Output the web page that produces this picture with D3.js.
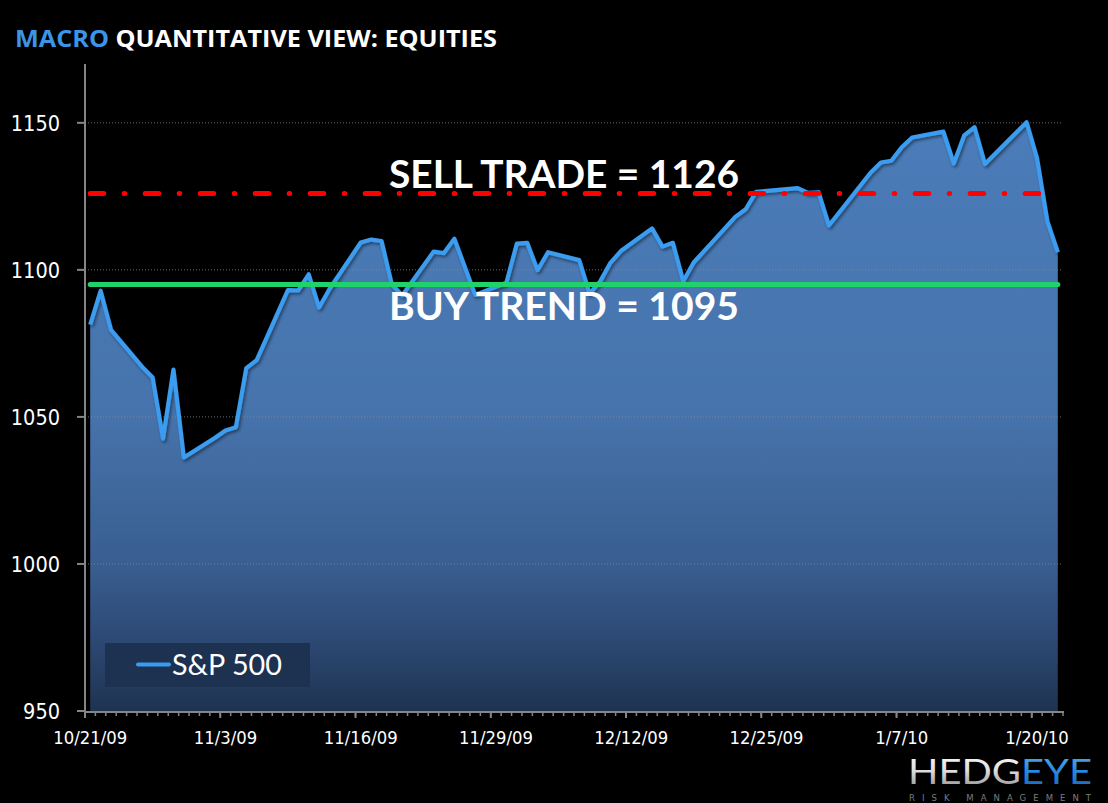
<!DOCTYPE html>
<html><head><meta charset="utf-8">
<script src="https://cdn.jsdelivr.net/npm/d3@7"></script>
<style>html,body{margin:0;padding:0;background:#000;overflow:hidden}svg{display:block}</style>
</head><body>
<svg id="chart" width="1108" height="803"></svg>
<script>
// ---------------- data ----------------
const dates = [
  "2009-10-21","2009-10-22","2009-10-23","2009-10-26","2009-10-27","2009-10-28","2009-10-29","2009-10-30",
  "2009-11-02","2009-11-03","2009-11-04","2009-11-05","2009-11-06","2009-11-09","2009-11-10","2009-11-11",
  "2009-11-12","2009-11-13","2009-11-16","2009-11-17","2009-11-18","2009-11-19","2009-11-20","2009-11-23",
  "2009-11-24","2009-11-25","2009-11-27","2009-11-30","2009-12-01","2009-12-02","2009-12-03","2009-12-04",
  "2009-12-07","2009-12-08","2009-12-09","2009-12-10","2009-12-11","2009-12-14","2009-12-15","2009-12-16",
  "2009-12-17","2009-12-18","2009-12-21","2009-12-22","2009-12-23","2009-12-24","2009-12-28","2009-12-29",
  "2009-12-30","2009-12-31","2010-01-04","2010-01-05","2010-01-06","2010-01-07","2010-01-08","2010-01-11",
  "2010-01-12","2010-01-13","2010-01-14","2010-01-15","2010-01-19","2010-01-20","2010-01-21","2010-01-22"
];
const values = [
  1081.4,1092.9,1079.6,1067.0,1063.4,1042.6,1066.1,1036.2,
  1042.9,1045.4,1046.5,1066.6,1069.3,1093.1,1093.0,1098.5,
  1087.2,1093.5,1109.3,1110.3,1109.8,1094.9,1091.4,1106.2,
  1105.7,1110.6,1091.5,1095.6,1108.9,1109.2,1099.9,1106.0,
  1103.3,1091.9,1096.0,1102.4,1106.4,1114.1,1107.9,1109.2,
  1096.1,1102.5,1114.1,1118.0,1120.6,1126.5,1127.8,1126.2,
  1126.4,1115.1,1133.0,1136.5,1137.1,1141.7,1145.0,1147.0,
  1136.2,1145.7,1148.5,1136.0,1150.2,1138.0,1116.5,1106.0
];
const seriesName = "S&P 500";
const yTicks = [950, 1000, 1050, 1100, 1150];
const yDomain = [950, 1170];
const xTickLabels = ["10/21/09","11/3/09","11/16/09","11/29/09","12/12/09","12/25/09","1/7/10","1/20/10"];
const xDomain = ["2009-10-21","2010-01-23"];
const levelNames = ["SELL TRADE", "BUY TREND"];
const levelValues = [1126, 1095];
const levelEnds = ["2010-01-20", "2010-01-22"];
const titleParts = ["MACRO", " QUANTITATIVE VIEW: EQUITIES"];

// ---------------- setup ----------------
const svg = d3.select("#chart");
const W = 1108, H = 803;
const m = {left: 85, right: 1063, top: 64, bottom: 711};
const toDay = s => { const [y, mo, d] = s.split("-").map(Number); return new Date(Date.UTC(y, mo - 1, d)); };
const mid = dt => new Date(+dt + 12 * 3600e3);
const data = dates.map((s, i) => ({date: mid(toDay(s)), value: values[i]}));

const x = d3.scaleUtc().domain(xDomain.map(toDay)).range([m.left, m.right]);
const y = d3.scaleLinear().domain(yDomain).range([m.bottom, m.top]);

svg.append("rect").attr("width", W).attr("height", H).attr("fill", "#000");

const defs = svg.append("defs");
const grad = defs.append("linearGradient").attr("id", "areaGrad")
  .attr("gradientUnits", "userSpaceOnUse").attr("x1", 0).attr("x2", 0)
  .attr("y1", y(1150)).attr("y2", y(950));
[[0, "#4b7cb9"], [0.5, "#4673ab"], [0.75, "#395e90"], [0.88, "#2c4974"], [1, "#1f3350"]]
  .forEach(([o, c]) => grad.append("stop").attr("offset", o).attr("stop-color", c));
const sh = defs.append("filter").attr("id", "shadow").attr("x", "-5%").attr("y", "-5%").attr("width", "110%").attr("height", "120%");
sh.append("feDropShadow").attr("dx", 1.5).attr("dy", 2).attr("stdDeviation", 1.5)
  .attr("flood-color", "#000").attr("flood-opacity", 0.45);
const logoGrad = defs.append("linearGradient").attr("id", "logoGrad").attr("x1", 0).attr("x2", 0).attr("y1", 0).attr("y2", 1);
[[0, "#ffffff"], [0.5, "#e0e0e0"], [1, "#8a8a8a"]].forEach(([o, c]) => logoGrad.append("stop").attr("offset", o).attr("stop-color", c));
const logoBlue = defs.append("linearGradient").attr("id", "logoBlue").attr("x1", 0).attr("x2", 0).attr("y1", 0).attr("y2", 1);
[[0, "#5db0f5"], [0.5, "#2b8ae0"], [1, "#1b62b0"]].forEach(([o, c]) => logoBlue.append("stop").attr("offset", o).attr("stop-color", c));

// ---------------- area ----------------
svg.append("path").datum(data)
  .attr("d", d3.area().x(d => x(d.date)).y0(y(yDomain[0])).y1(d => y(d.value)))
  .attr("fill", "url(#areaGrad)");

// gridlines
svg.append("g").selectAll("line").data(yTicks.slice(1)).join("line")
  .attr("x1", m.left).attr("x2", m.right)
  .attr("y1", d => y(d)).attr("y2", d => y(d))
  .attr("stroke", "#8a8a8a").attr("stroke-width", 1).attr("stroke-dasharray", "1 2").attr("opacity", 0.8);

// legend box
const leg = svg.append("g");
leg.append("rect").attr("x", 105).attr("y", 643).attr("width", 205).attr("height", 44).attr("fill", "#1d3151");
leg.append("line").attr("x1", 138).attr("x2", 169).attr("y1", 664.5).attr("y2", 664.5)
  .attr("stroke", "#3a9cf0").attr("stroke-width", 4).attr("stroke-linecap", "round");
leg.append("text").attr("x", 172).attr("y", 675).text(seriesName)
  .attr("fill", "#fff").attr("font-family", "Lato, 'Open Sans', sans-serif").attr("font-size", 28)
  .attr("textLength", 110).attr("lengthAdjust", "spacingAndGlyphs");

// ---------------- series line ----------------
svg.append("path").datum(data)
  .attr("d", d3.line().x(d => x(d.date)).y(d => y(d.value)))
  .attr("fill", "none").attr("stroke", "#3a9cf0").attr("stroke-width", 4.2)
  .attr("stroke-linejoin", "round").attr("filter", "url(#shadow)");

// ---------------- level lines ----------------
const levelColors = ["#ff0000", "#1fd36a"];
const levelDash = ["13.5 20.5 0.5 20.5", null];
levelValues.forEach((v, i) => {
  svg.append("line")
    .attr("x1", x(data[0].date)).attr("x2", x(mid(toDay(levelEnds[i]))) + (i === 0 ? 2 : 0))
    .attr("y1", y(v)).attr("y2", y(v))
    .attr("stroke", levelColors[i]).attr("stroke-width", 5).attr("stroke-linecap", "round")
    .attr("stroke-dasharray", levelDash[i]);
});
const labelY = [y(levelValues[0]) - 5, y(levelValues[1]) + 35];
levelValues.forEach((v, i) => {
  svg.append("text").attr("x", 389).attr("y", labelY[i])
    .text(`${levelNames[i]} = ${v}`)
    .attr("fill", "#fff").attr("font-family", "Lato, 'Open Sans', sans-serif").attr("font-weight", 700)
    .attr("font-size", 39).attr("textLength", 350).attr("lengthAdjust", "spacingAndGlyphs");
});

// ---------------- axes ----------------
const axisColor = "#858585";
const ax = svg.append("g");
ax.append("line").attr("x1", m.left).attr("x2", m.left).attr("y1", m.top).attr("y2", m.bottom + 1)
  .attr("stroke", axisColor).attr("stroke-width", 2);
ax.append("line").attr("x1", m.left - 1).attr("x2", m.right + 1).attr("y1", m.bottom + 1).attr("y2", m.bottom + 1)
  .attr("stroke", axisColor).attr("stroke-width", 2);
ax.selectAll(".yt").data(yTicks).join("line")
  .attr("x1", m.left - 8).attr("x2", m.left).attr("y1", d => y(d)).attr("y2", d => y(d))
  .attr("stroke", axisColor).attr("stroke-width", 2);
ax.selectAll(".yl").data(yTicks).join("text")
  .attr("x", 60).attr("y", d => y(d)).attr("dy", "0.36em").attr("text-anchor", "end")
  .text(d => d).attr("fill", "#fff")
  .attr("font-family", "'DejaVu Sans Condensed', 'DejaVu Sans', sans-serif").attr("font-stretch", "condensed")
  .attr("font-size", 21.5);
const days = d3.utcDay.range(x.domain()[0], d3.utcDay.offset(x.domain()[1], 1));
ax.selectAll(".xm").data(days).join("line")
  .attr("x1", d => x(d)).attr("x2", d => x(d)).attr("y1", m.bottom + 1).attr("y2", m.bottom + 5)
  .attr("stroke", axisColor).attr("stroke-width", 1.5);
const parseLbl = d3.utcParse("%m/%d/%y");
const major = xTickLabels.map(s => ({s, d: parseLbl(s)}));
ax.selectAll(".xM").data(major).join("line")
  .attr("x1", d => x(d.d)).attr("x2", d => x(d.d)).attr("y1", m.bottom + 1).attr("y2", m.bottom + 7)
  .attr("stroke", axisColor).attr("stroke-width", 2);
ax.selectAll(".xl").data(major).join("text")
  .attr("x", d => x(mid(d.d))).attr("y", 743.5).attr("text-anchor", "middle")
  .text(d => d.s).attr("fill", "#fff")
  .attr("font-family", "'DejaVu Sans Condensed', 'DejaVu Sans', sans-serif").attr("font-stretch", "condensed")
  .attr("font-size", 18.3);

// ---------------- title ----------------
const title = svg.append("text").attr("x", 15).attr("y", 47)
  .attr("font-family", "'Open Sans', sans-serif").attr("font-weight", 700).attr("font-size", 23)
  .attr("textLength", 482).attr("lengthAdjust", "spacingAndGlyphs");
title.append("tspan").text(titleParts[0]).attr("fill", "#3a95e6");
title.append("tspan").text(titleParts[1]).attr("fill", "#fff");

// ---------------- logo ----------------
const logo = svg.append("text").attr("x", 908).attr("y", 784)
  .attr("font-family", "Lato, 'DejaVu Sans', sans-serif").attr("font-weight", 400).attr("font-size", 35)
  .attr("textLength", 184).attr("lengthAdjust", "spacingAndGlyphs");
logo.append("tspan").text("HEDG").attr("fill", "url(#logoGrad)");
logo.append("tspan").text("EYE").attr("fill", "url(#logoBlue)");
svg.append("text").attr("x", 909).attr("y", 800.5).text("RISK MANAGEMENT")
  .attr("fill", "#7d7d7d").attr("font-family", "'DejaVu Sans', sans-serif").attr("font-size", 8.5)
  .attr("textLength", 182).attr("lengthAdjust", "spacing");
</script>
</body></html>
